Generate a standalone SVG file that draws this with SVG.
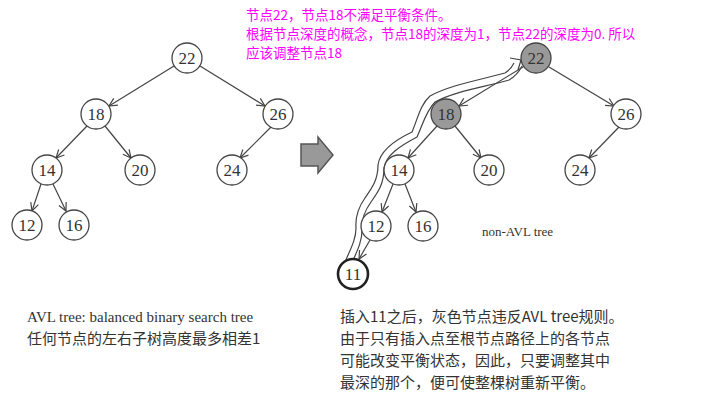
<svg xmlns="http://www.w3.org/2000/svg" width="721" height="408" viewBox="0 0 721 408">
<style>
.n circle{fill:#fff;stroke:#444;stroke-width:1.3}
.g circle{fill:#999}
.n text{font-family:"Liberation Serif",serif;font-size:17px;fill:#333;text-anchor:middle}
.e line{stroke:#444;stroke-width:1.2;marker-end:url(#a)}
.m{font-family:"Noto Sans CJK SC",sans-serif;font-size:13.5px;fill:#f0f}
.b{font-family:"Liberation Serif","Noto Sans CJK SC",serif;font-size:15px;fill:#333}
.c{font-family:"Noto Sans CJK SC",sans-serif;font-size:15px;fill:#333}
</style>
<defs><marker id="a" markerWidth="10" markerHeight="10" refX="9" refY="5" orient="auto" markerUnits="userSpaceOnUse"><path d="M1,1 L9,5 L1,9" fill="none" stroke="#444" stroke-width="1.2"/></marker></defs>
<rect width="721" height="408" fill="#fff"/>
<g id="connectors" class="e">
<line x1="174" y1="66" x2="109" y2="106"/><line x1="200" y1="66" x2="265" y2="106"/>
<line x1="87" y1="126" x2="56" y2="158"/><line x1="105" y1="126" x2="131" y2="158"/>
<line x1="271" y1="127" x2="240" y2="158"/>
<line x1="41" y1="184" x2="32" y2="211"/><line x1="53" y1="184" x2="66" y2="211"/>
<line x1="523" y1="67" x2="459" y2="106"/><line x1="549" y1="67" x2="614" y2="106"/>
<line x1="437" y1="126" x2="408" y2="158"/><line x1="455" y1="126" x2="481" y2="158"/>
<line x1="619" y1="127" x2="589" y2="158"/>
<line x1="393" y1="184" x2="382" y2="212"/><line x1="405" y1="184" x2="416" y2="212"/>
<line x1="370" y1="240" x2="359" y2="259"/>
<path d="M345,262 C350,250 356,240 356,228 C355,215 360,205 365,198 C372,188 378,180 378,165 C380,150 395,140 412,132 C418,118 420,105 430,96 C450,85 480,80 505,73 C510,70 512,67 514,63" fill="none" stroke="#444" stroke-width="1.2"/>
<path d="M351,265 C356,253 362,243 362,230 C361,218 366,209 371,202 C378,192 384,184 384,168 C386,155 400,146 417,137 C423,124 426,111 435,102 C455,91 485,87 509,80 C516,76 519,72 522,66" fill="none" stroke="#444" stroke-width="1.2"/>
<path d="M510,58 L521,60 L518,70" fill="none" stroke="#444" stroke-width="1.2"/>
</g>
<path d="M301,144 H318 V137 L333,155 L318,173 V166 H301 Z" fill="#999" stroke="#555" stroke-width="1.5"/>
<g id="L22" class="n"><circle cx="187" cy="58" r="15"/><text x="187" y="64">22</text></g>
<g id="L18" class="n"><circle cx="96" cy="114" r="15"/><text x="96" y="120">18</text></g>
<g id="L26" class="n"><circle cx="278" cy="114" r="15"/><text x="278" y="120">26</text></g>
<g id="L14" class="n"><circle cx="47" cy="170" r="15"/><text x="47" y="176">14</text></g>
<g id="L20" class="n"><circle cx="140" cy="170" r="15"/><text x="140" y="176">20</text></g>
<g id="L24" class="n"><circle cx="232" cy="170" r="15"/><text x="232" y="176">24</text></g>
<g id="L12" class="n"><circle cx="27" cy="225" r="15"/><text x="27" y="231">12</text></g>
<g id="L16" class="n"><circle cx="74" cy="225" r="15"/><text x="74" y="231">16</text></g>
<g id="R22" class="n g"><circle cx="536" cy="58" r="15"/><text x="536" y="64">22</text></g>
<g id="R18" class="n g"><circle cx="446" cy="114" r="15"/><text x="446" y="120">18</text></g>
<g id="R26" class="n"><circle cx="626" cy="114" r="15"/><text x="626" y="120">26</text></g>
<g id="R14" class="n"><circle cx="399" cy="170" r="15"/><text x="399" y="176">14</text></g>
<g id="R20" class="n"><circle cx="489" cy="170" r="15"/><text x="489" y="176">20</text></g>
<g id="R24" class="n"><circle cx="580" cy="170" r="15"/><text x="580" y="176">24</text></g>
<g id="R12" class="n"><circle cx="376" cy="226" r="15"/><text x="376" y="232">12</text></g>
<g id="R16" class="n"><circle cx="423" cy="226" r="15"/><text x="423" y="232">16</text></g>
<g id="R11" class="n"><circle cx="353" cy="274" r="15" style="stroke-width:2.6;stroke:#222"/><text x="353" y="280">11</text></g>
<text x="482" y="236" class="b" style="font-size:13px">non-AVL tree</text>
<text x="246" y="20" class="m">节点22，节点18不满足平衡条件。</text>
<text x="246" y="39" class="m">根据节点深度的概念，节点18的深度为1，节点22的深度为0. 所以</text>
<text x="246" y="58" class="m">应该调整节点18</text>
<text x="27" y="322" class="b">AVL tree:  balanced binary search tree</text>
<text x="27" y="344" class="c">任何节点的左右子树高度最多相差1</text>
<text x="340" y="322" class="c">插入11之后，灰色节点违反AVL tree规则。</text>
<text x="340" y="344" class="c">由于只有插入点至根节点路径上的各节点</text>
<text x="340" y="366" class="c">可能改变平衡状态，因此，只要调整其中</text>
<text x="340" y="388" class="c">最深的那个，便可使整棵树重新平衡。</text>
</svg>
